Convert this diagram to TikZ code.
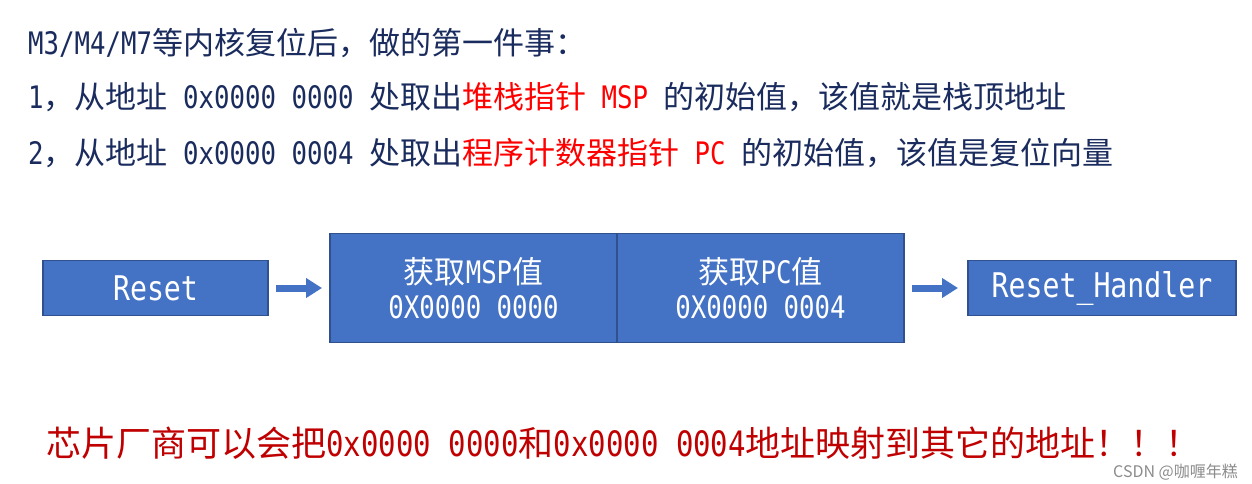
\documentclass[tikz,border=0pt]{standalone}
\usepackage{fontspec}
\setmainfont{DejaVu Sans Mono}[FakeStretch=0.83]
\newfontfamily\cjkfont{Noto Sans CJK SC}
\newcommand\cj[1]{{\cjkfont #1}}
\usetikzlibrary{arrows.meta}
\definecolor{txtblue}{HTML}{1A2B5E}
\definecolor{boxfill}{HTML}{4472C4}
\definecolor{boxline}{HTML}{2F528F}
\definecolor{hired}{HTML}{FF0000}
\definecolor{darkred}{HTML}{C00000}
\begin{document}
\begin{tikzpicture}[x=1pt,y=-1pt,
  textline/.style={anchor=base west, inner sep=0, text=txtblue, font=\fontsize{31}{35}\selectfont},
  blockbox/.style={draw=boxline, line width=1.5pt, fill=boxfill, text=white, inner sep=0, outer sep=0},
  flow/.style={draw=boxfill, line width=7pt, -{Triangle[length=16pt,width=19pt]}}]
\useasboundingbox[fill=white] (0,0) rectangle (1252,483);

\node[textline] (t1) at (28,54) {M3/M4/M7\cj{等内核复位后，做的第一件事：}};
\node[textline] (t2) at (28,108) {1\cj{，从地址} 0x0000 0000 \cj{处取出}\textcolor{hired}{\cj{堆栈指针} MSP} \cj{的初始值，该值就是栈顶地址}};
\node[textline] (t3) at (28,164) {2\cj{，从地址} 0x0000 0004 \cj{处取出}\textcolor{hired}{\cj{程序计数器指针} PC} \cj{的初始值，该值是复位向量}};

\node[blockbox, minimum width=225, minimum height=55, font=\fontsize{34}{38}\selectfont] (reset) at (155.5,288) {Reset};
\node[blockbox, minimum width=287, minimum height=109, align=center, font=\fontsize{31}{35}\selectfont] (msp) at (473.5,288) {\cj{获取}MSP\cj{值}\\0X0000 0000};
\node[blockbox, minimum width=287, minimum height=109, align=center, font=\fontsize{31}{35}\selectfont] (pc) at (760.5,288) {\cj{获取}PC\cj{值}\\0X0000 0004};
\node[blockbox, minimum width=268, minimum height=55, font=\fontsize{34}{38}\selectfont] (handler) at (1102,288) {Reset\_Handler};

\draw[flow, shorten <=8pt, shorten >=8pt] (reset.east) -- (msp.west);
\draw[flow, shorten <=8pt, shorten >=10pt] (pc.east) -- (handler.west);

\node[anchor=base west, inner sep=0, text=darkred, font=\fontsize{35}{40}\selectfont] (note) at (46,456) {\cj{芯片厂商可以会把}0x0000 0000\cj{和}0x0000 0004\cj{地址映射到其它的地址！！！}};

\node[anchor=east, inner sep=0, text=black!45, font=\cjkfont\fontsize{16}{18}\selectfont] (wm) at (1238,472) {CSDN @咖喱年糕};
\end{tikzpicture}
\end{document}
